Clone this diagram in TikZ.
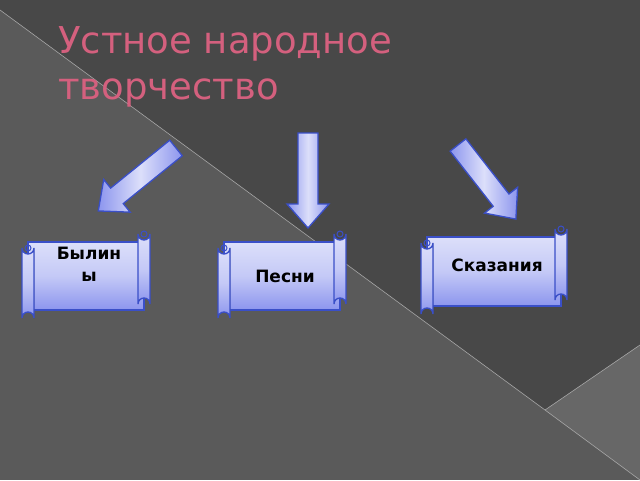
\documentclass[tikz,border=0pt]{standalone}
\usepackage{fontspec}
\setmainfont{DejaVu Sans}
\usetikzlibrary{calc}
\definecolor{bgA}{HTML}{484848}
\definecolor{bgB}{HTML}{5A5A5A}
\definecolor{ttl}{HTML}{D4607E}
\definecolor{edge}{HTML}{3A4FC8}
\definecolor{fillA}{HTML}{8C95EE}
\definecolor{fillB}{HTML}{DCDFFA}
\tikzset{
  scrollfill/.style={draw=edge, line width=1.3pt, top color=fillB, bottom color=fillA, middle color=fillB!70!fillA},
  arrowfill/.style={draw=edge, line width=1.3pt, left color=fillA, right color=fillA, middle color=fillB},
  lbl/.style={font=\fontsize{17}{22}\selectfont\bfseries, align=center, text=black}
}
\newcommand{\myscroll}[5]{% x1 y1 x2 y2 name
  \fill[scrollfill] (#1+6,#2+8) rectangle (#3-6,#4-8);
  \fill[scrollfill] (#3-12,#2+8) -- (#3-12,#2) arc[start angle=180,end angle=0,radius=6] -- (#3,#4-14) arc[start angle=0,end angle=-180,radius=6] -- cycle;
  \fill[scrollfill] (#1,#2+14) arc[start angle=180,end angle=0,radius=6] -- (#1+12,#4) arc[start angle=0,end angle=-180,radius=6] -- cycle;
  \draw[edge,line width=1pt] (#1+6,#2+14) circle (3);
  \draw[edge,line width=1pt] (#3-6,#2) circle (3);
  \coordinate (#5) at ({(#1+#3)/2+3},{(#2+#4)/2});
}
\newcommand{\myarrow}[4]{% x y angle length
  \begin{scope}[shift={(#1,#2)},rotate=#3]
    \fill[arrowfill] (0,-10) -- (#4-24,-10) -- (#4-24,-21) -- (#4,0) -- (#4-24,21) -- (#4-24,10) -- (0,10) -- cycle;
  \end{scope}
}
\begin{document}
\begin{tikzpicture}[x=1pt,y=-1pt]
\useasboundingbox (0,0) rectangle (640,480);
\fill[bgB] (0,0) rectangle (640,480);
\fill[bgA] (0,0) -- (640,0) -- (640,345) -- (545,410) -- (0,10) -- cycle;
\fill[bgB!92!white] (545,410) -- (640,345) -- (640,480) -- cycle;
\draw[gray!70, line width=0.6pt] (0,10) -- (545,410) -- (640,480);
\draw[gray!70, line width=0.6pt] (545,410) -- (640,345);
\node[anchor=north west, text=ttl, align=left, font=\fontsize{37}{46}\selectfont, inner sep=0pt] (title) at (58,26) {Устное народное\\творчество};
\myarrow{176}{148}{-141}{100}
\myarrow{308}{133}{-90}{95}
\myarrow{458}{145}{-52}{94}
\myscroll{22}{234}{150}{318}{b1}
\myscroll{218}{234}{346}{318}{b2}
\myscroll{421}{229}{567}{314}{b3}
\node[lbl] (t1) at ($(b1)+(0,-12)$) {Былин\\ы};
\node[lbl] (t2) at ($(b2)+(0,0)$) {Песни};
\node[lbl] (t3) at ($(b3)+(0,-6)$) {Сказания};
\end{tikzpicture}
\end{document}
